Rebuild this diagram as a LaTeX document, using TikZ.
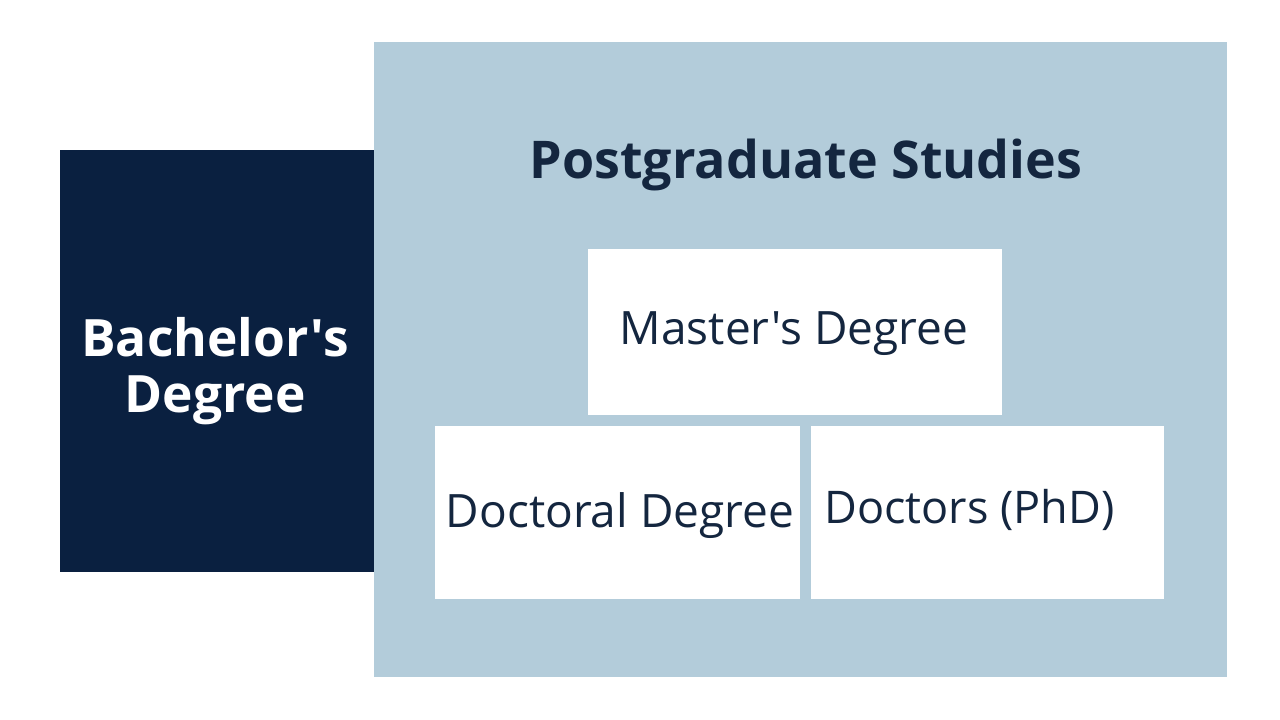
\documentclass[tikz,border=0pt]{standalone}
\usepackage{fontspec}
\setmainfont{Open Sans}[Ligatures=TeXOff]
\definecolor{lightblue}{HTML}{B3CCDA}
\definecolor{navy}{HTML}{0A2040}
\definecolor{ink}{HTML}{14263F}
\tikzset{
  box/.style={rectangle, inner sep=0pt, outer sep=0pt},
  whitebox/.style={box, fill=white},
  label/.style={inner sep=0pt, text=ink, font=\fontsize{46}{50}\selectfont},
}
\begin{document}
\begin{tikzpicture}[x=1pt,y=-1pt]
\useasboundingbox[fill=white] (0,0) rectangle (1280,720);
\node[box, fill=lightblue, minimum width=853pt, minimum height=635pt, anchor=north west] (post) at (374,42) {};
\node[box, fill=navy, minimum width=314pt, minimum height=422pt, anchor=north west] (bach) at (60,150) {};
\node[whitebox, minimum width=414pt, minimum height=166pt, anchor=north west] (master) at (588,249) {};
\node[whitebox, minimum width=365pt, minimum height=173pt, anchor=north west] (doctoral) at (435,426) {};
\node[whitebox, minimum width=353pt, minimum height=173pt, anchor=north west] (phd) at (811,426) {};
\node[label, font=\fontsize{52}{56}\selectfont\bfseries, anchor=base] (posttitle) at (806,178) {Postgraduate Studies};
\node[label, anchor=base] (mastert) at (794,344) {Master's Degree};
\node[label, anchor=base] (doctoralt) at (620,527) {Doctoral Degree};
\node[label, font=\fontsize{45}{50}\selectfont, anchor=base west] (phdt) at (824,523) {Doctors (PhD)};
\node[inner sep=0pt, text=white, font=\fontsize{51.5}{56}\selectfont\bfseries, align=center, anchor=base] (bacht) at (215,412) {Bachelor's\\Degree};
\end{tikzpicture}
\end{document}
